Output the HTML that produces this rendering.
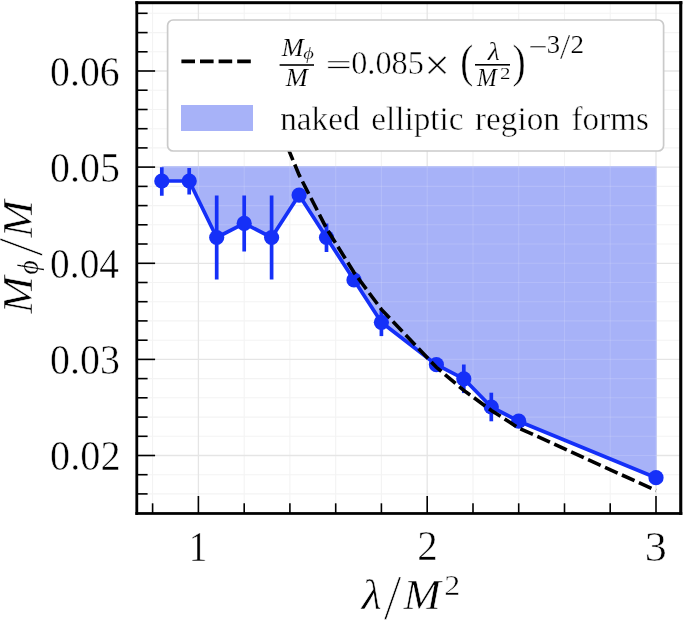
<!DOCTYPE html>
<html lang="en"><head><meta charset="utf-8"><title>M_phi/M vs lambda/M^2</title>
<style>html,body{margin:0;padding:0;background:#fff}svg{display:block}</style></head>
<body>
<svg width="685" height="620" viewBox="0 0 685 620" font-family="'Liberation Serif', 'DejaVu Serif', serif" fill="#000">
<rect width="685" height="620" fill="#fff"/>
<clipPath id="ax"><rect x="137.0" y="3.0" width="544.0" height="510.29999999999995"/></clipPath>
<g stroke="#f3f3f3" stroke-width="1.1"><line x1="152.6" x2="152.6" y1="3.0" y2="513.3"/><line x1="244.2" x2="244.2" y1="3.0" y2="513.3"/><line x1="289.9" x2="289.9" y1="3.0" y2="513.3"/><line x1="335.7" x2="335.7" y1="3.0" y2="513.3"/><line x1="381.4" x2="381.4" y1="3.0" y2="513.3"/><line x1="473.0" x2="473.0" y1="3.0" y2="513.3"/><line x1="518.7" x2="518.7" y1="3.0" y2="513.3"/><line x1="564.5" x2="564.5" y1="3.0" y2="513.3"/><line x1="610.2" x2="610.2" y1="3.0" y2="513.3"/><line x1="137.0" x2="681.0" y1="493.9" y2="493.9"/><line x1="137.0" x2="681.0" y1="474.7" y2="474.7"/><line x1="137.0" x2="681.0" y1="436.3" y2="436.3"/><line x1="137.0" x2="681.0" y1="417.1" y2="417.1"/><line x1="137.0" x2="681.0" y1="397.8" y2="397.8"/><line x1="137.0" x2="681.0" y1="378.6" y2="378.6"/><line x1="137.0" x2="681.0" y1="340.2" y2="340.2"/><line x1="137.0" x2="681.0" y1="320.9" y2="320.9"/><line x1="137.0" x2="681.0" y1="301.7" y2="301.7"/><line x1="137.0" x2="681.0" y1="282.5" y2="282.5"/><line x1="137.0" x2="681.0" y1="244.0" y2="244.0"/><line x1="137.0" x2="681.0" y1="224.8" y2="224.8"/><line x1="137.0" x2="681.0" y1="205.6" y2="205.6"/><line x1="137.0" x2="681.0" y1="186.4" y2="186.4"/><line x1="137.0" x2="681.0" y1="147.9" y2="147.9"/><line x1="137.0" x2="681.0" y1="128.7" y2="128.7"/><line x1="137.0" x2="681.0" y1="109.5" y2="109.5"/><line x1="137.0" x2="681.0" y1="90.2" y2="90.2"/><line x1="137.0" x2="681.0" y1="51.8" y2="51.8"/><line x1="137.0" x2="681.0" y1="32.6" y2="32.6"/><line x1="137.0" x2="681.0" y1="13.3" y2="13.3"/></g><g stroke="#e5e5e5" stroke-width="1.3"><line x1="198.4" x2="198.4" y1="3.0" y2="513.3"/><line x1="427.2" x2="427.2" y1="3.0" y2="513.3"/><line x1="656.0" x2="656.0" y1="3.0" y2="513.3"/><line x1="137.0" x2="681.0" y1="455.5" y2="455.5"/><line x1="137.0" x2="681.0" y1="359.4" y2="359.4"/><line x1="137.0" x2="681.0" y1="263.3" y2="263.3"/><line x1="137.0" x2="681.0" y1="167.1" y2="167.1"/><line x1="137.0" x2="681.0" y1="71.0" y2="71.0"/></g>
<clipPath id="fc"><polygon points="161.8,166.2 656.6,166.2 656.6,477.7 656.0,477.7 518.7,421.2 491.3,407.0 463.8,378.8 436.4,364.7 381.4,322.3 354.0,279.9 326.5,237.5 299.1,195.1 271.6,237.5 244.2,223.4 216.7,237.5 189.2,181.0 161.8,181.0"/></clipPath>
<polygon points="161.8,166.2 656.6,166.2 656.6,477.7 656.0,477.7 518.7,421.2 491.3,407.0 463.8,378.8 436.4,364.7 381.4,322.3 354.0,279.9 326.5,237.5 299.1,195.1 271.6,237.5 244.2,223.4 216.7,237.5 189.2,181.0 161.8,181.0" fill="#a7b2f8"/>
<g clip-path="url(#fc)" stroke="#fff" stroke-opacity="0.14" stroke-width="1.1"><line x1="152.6" x2="152.6" y1="3.0" y2="513.3"/><line x1="244.2" x2="244.2" y1="3.0" y2="513.3"/><line x1="289.9" x2="289.9" y1="3.0" y2="513.3"/><line x1="335.7" x2="335.7" y1="3.0" y2="513.3"/><line x1="381.4" x2="381.4" y1="3.0" y2="513.3"/><line x1="473.0" x2="473.0" y1="3.0" y2="513.3"/><line x1="518.7" x2="518.7" y1="3.0" y2="513.3"/><line x1="564.5" x2="564.5" y1="3.0" y2="513.3"/><line x1="610.2" x2="610.2" y1="3.0" y2="513.3"/><line x1="137.0" x2="681.0" y1="493.9" y2="493.9"/><line x1="137.0" x2="681.0" y1="474.7" y2="474.7"/><line x1="137.0" x2="681.0" y1="436.3" y2="436.3"/><line x1="137.0" x2="681.0" y1="417.1" y2="417.1"/><line x1="137.0" x2="681.0" y1="397.8" y2="397.8"/><line x1="137.0" x2="681.0" y1="378.6" y2="378.6"/><line x1="137.0" x2="681.0" y1="340.2" y2="340.2"/><line x1="137.0" x2="681.0" y1="320.9" y2="320.9"/><line x1="137.0" x2="681.0" y1="301.7" y2="301.7"/><line x1="137.0" x2="681.0" y1="282.5" y2="282.5"/><line x1="137.0" x2="681.0" y1="244.0" y2="244.0"/><line x1="137.0" x2="681.0" y1="224.8" y2="224.8"/><line x1="137.0" x2="681.0" y1="205.6" y2="205.6"/><line x1="137.0" x2="681.0" y1="186.4" y2="186.4"/><line x1="137.0" x2="681.0" y1="147.9" y2="147.9"/><line x1="137.0" x2="681.0" y1="128.7" y2="128.7"/><line x1="137.0" x2="681.0" y1="109.5" y2="109.5"/><line x1="137.0" x2="681.0" y1="90.2" y2="90.2"/><line x1="137.0" x2="681.0" y1="51.8" y2="51.8"/><line x1="137.0" x2="681.0" y1="32.6" y2="32.6"/><line x1="137.0" x2="681.0" y1="13.3" y2="13.3"/><line x1="198.4" x2="198.4" y1="3.0" y2="513.3"/><line x1="427.2" x2="427.2" y1="3.0" y2="513.3"/><line x1="656.0" x2="656.0" y1="3.0" y2="513.3"/><line x1="137.0" x2="681.0" y1="455.5" y2="455.5"/><line x1="137.0" x2="681.0" y1="359.4" y2="359.4"/><line x1="137.0" x2="681.0" y1="263.3" y2="263.3"/><line x1="137.0" x2="681.0" y1="167.1" y2="167.1"/><line x1="137.0" x2="681.0" y1="71.0" y2="71.0"/></g>
<g clip-path="url(#ax)">
<polyline points="161.8,181.0 189.2,181.0 216.7,237.5 244.2,223.4 271.6,237.5 299.1,195.1 326.5,237.5 354.0,279.9 381.4,322.3 436.4,364.7 463.8,378.8 491.3,407.0 518.7,421.2 656.0,477.7" fill="none" stroke="#1530f8" stroke-width="3.7" stroke-linejoin="round"/>
<g stroke="#1530f8" stroke-width="3.7"><line x1="161.8" x2="161.8" y1="167.3" y2="195.7"/><line x1="189.2" x2="189.2" y1="168.1" y2="194.6"/><line x1="216.7" x2="216.7" y1="195.5" y2="279.5"/><line x1="244.2" x2="244.2" y1="195.4" y2="251.4"/><line x1="271.6" x2="271.6" y1="195.5" y2="279.5"/><line x1="326.5" x2="326.5" y1="223.5" y2="252.1"/><line x1="381.4" x2="381.4" y1="309.8" y2="336.1"/><line x1="463.8" x2="463.8" y1="364.5" y2="393.1"/><line x1="491.3" x2="491.3" y1="392.7" y2="421.3"/></g>
<g fill="#1530f8"><circle cx="161.8" cy="181.0" r="7.6"/><circle cx="189.2" cy="181.0" r="7.6"/><circle cx="216.7" cy="237.5" r="7.6"/><circle cx="244.2" cy="223.4" r="7.6"/><circle cx="271.6" cy="237.5" r="7.6"/><circle cx="299.1" cy="195.1" r="7.6"/><circle cx="326.5" cy="237.5" r="7.6"/><circle cx="354.0" cy="279.9" r="7.6"/><circle cx="381.4" cy="322.3" r="7.6"/><circle cx="436.4" cy="364.7" r="7.6"/><circle cx="463.8" cy="378.8" r="7.6"/><circle cx="491.3" cy="407.0" r="7.6"/><circle cx="518.7" cy="421.2" r="7.6"/><circle cx="656.0" cy="477.7" r="7.6"/></g>
<polyline points="656.0,490.5 518.7,428.0 491.3,410.4 463.8,390.4 436.4,367.3 381.4,309.4 354.0,272.5 326.5,228.4 299.1,174.9 271.6,109.0" fill="none" stroke="#000" stroke-width="3.6" stroke-dasharray="13.8,4.8" stroke-dashoffset="13.6"/>
</g>
<g stroke="#000" stroke-width="1.6"><line x1="152.6" x2="152.6" y1="513.3" y2="503.29999999999995"/><line x1="198.4" x2="198.4" y1="513.3" y2="495.99999999999994"/><line x1="244.2" x2="244.2" y1="513.3" y2="503.29999999999995"/><line x1="289.9" x2="289.9" y1="513.3" y2="503.29999999999995"/><line x1="335.7" x2="335.7" y1="513.3" y2="503.29999999999995"/><line x1="381.4" x2="381.4" y1="513.3" y2="503.29999999999995"/><line x1="427.2" x2="427.2" y1="513.3" y2="495.99999999999994"/><line x1="473.0" x2="473.0" y1="513.3" y2="503.29999999999995"/><line x1="518.7" x2="518.7" y1="513.3" y2="503.29999999999995"/><line x1="564.5" x2="564.5" y1="513.3" y2="503.29999999999995"/><line x1="610.2" x2="610.2" y1="513.3" y2="503.29999999999995"/><line x1="656.0" x2="656.0" y1="513.3" y2="495.99999999999994"/><line x1="137.0" x2="147.6" y1="493.9" y2="493.9"/><line x1="137.0" x2="147.6" y1="474.7" y2="474.7"/><line x1="137.0" x2="155.1" y1="455.5" y2="455.5"/><line x1="137.0" x2="147.6" y1="436.3" y2="436.3"/><line x1="137.0" x2="147.6" y1="417.1" y2="417.1"/><line x1="137.0" x2="147.6" y1="397.8" y2="397.8"/><line x1="137.0" x2="147.6" y1="378.6" y2="378.6"/><line x1="137.0" x2="155.1" y1="359.4" y2="359.4"/><line x1="137.0" x2="147.6" y1="340.2" y2="340.2"/><line x1="137.0" x2="147.6" y1="320.9" y2="320.9"/><line x1="137.0" x2="147.6" y1="301.7" y2="301.7"/><line x1="137.0" x2="147.6" y1="282.5" y2="282.5"/><line x1="137.0" x2="155.1" y1="263.3" y2="263.3"/><line x1="137.0" x2="147.6" y1="244.0" y2="244.0"/><line x1="137.0" x2="147.6" y1="224.8" y2="224.8"/><line x1="137.0" x2="147.6" y1="205.6" y2="205.6"/><line x1="137.0" x2="147.6" y1="186.4" y2="186.4"/><line x1="137.0" x2="155.1" y1="167.1" y2="167.1"/><line x1="137.0" x2="147.6" y1="147.9" y2="147.9"/><line x1="137.0" x2="147.6" y1="128.7" y2="128.7"/><line x1="137.0" x2="147.6" y1="109.5" y2="109.5"/><line x1="137.0" x2="147.6" y1="90.2" y2="90.2"/><line x1="137.0" x2="155.1" y1="71.0" y2="71.0"/><line x1="137.0" x2="147.6" y1="51.8" y2="51.8"/><line x1="137.0" x2="147.6" y1="32.6" y2="32.6"/><line x1="137.0" x2="147.6" y1="13.3" y2="13.3"/></g>
<g fill="#000"><rect x="135.4" y="1.2" width="2.8" height="513.65"/><rect x="135.4" y="512.1" width="546.9" height="2.75"/><rect x="679.2" y="1.2" width="3.1" height="513.65"/><rect x="135.4" y="1.2" width="546.9" height="3.0"/></g>
<rect x="167.6" y="20" width="496" height="131" rx="5.5" fill="#fff" stroke="#cacaca" stroke-width="1.7"/>
<line x1="181.4" x2="253" y1="61.4" y2="61.4" stroke="#000" stroke-width="3.6" stroke-dasharray="13.6,5"/>
<rect x="181" y="105" width="72" height="26" fill="#a7b2f8"/>
<rect x="279.6" y="64.2" width="34.4" height="1.6"/><rect x="475" y="64.0" width="35" height="1.6"/>
<g stroke="#fff" stroke-width="0.5">
<text transform="translate(50.11,85.70) scale(0.9642,1.0000)" font-size="41.18">0.06</text>
<text transform="translate(50.10,181.82) scale(0.9700,1.0000)" font-size="41.18">0.05</text>
<text transform="translate(50.12,277.94) scale(0.9557,1.0000)" font-size="41.18">0.04</text>
<text transform="translate(50.10,374.06) scale(0.9700,1.0000)" font-size="41.18">0.03</text>
<text transform="translate(50.09,470.18) scale(0.9788,1.0000)" font-size="41.18">0.02</text>
<text transform="translate(188.65,560.70) scale(0.8760,1.0000)" font-size="42.42">1</text>
<text transform="translate(417.16,560.40) scale(0.9771,1.0000)" font-size="41.96">2</text>
<text transform="translate(644.80,560.58) scale(1.0485,1.0000)" font-size="42.08">3</text>
<text transform="translate(361.74,609.40) scale(1.0978,1.0000)" font-size="41.70" font-style="italic">λ</text>
<text transform="translate(385.92,618.97) scale(1.0183,1.4925)" font-size="42.00" font-style="italic">/</text>
<text transform="translate(403.56,609.40) scale(1.0872,1.0000)" font-size="41.22" font-style="italic">M</text>
<text transform="translate(444.16,595.00) scale(1.0600,1.0000)" font-size="30.19">2</text>
<text transform="translate(32.0,314.0) rotate(-90) translate(0.56,0.00) scale(1.0484,1.0000)" font-size="42.75" font-style="italic">M</text>
<text transform="translate(32.0,314.0) rotate(-90) translate(39.38,5.68) scale(0.9248,1.0000)" font-size="29.75" font-style="italic" stroke-width="0.2">ϕ</text>
<text transform="translate(32.0,314.0) rotate(-90) translate(60.04,9.87) scale(1.0782,1.4925)" font-size="42.00" font-style="italic">/</text>
<text transform="translate(32.0,314.0) rotate(-90) translate(76.56,0.00) scale(1.0484,1.0000)" font-size="42.75" font-style="italic">M</text>
<text transform="translate(281.83,56.30) scale(1.0086,1.0000)" font-size="26.11" font-style="italic" stroke-width="0.2">M</text>
<text transform="translate(303.34,59.29) scale(1.2420,1.0000)" font-size="16.53" font-style="italic" stroke-width="0.2">ϕ</text>
<text transform="translate(285.73,86.30) scale(1.0188,1.0000)" font-size="25.95" font-style="italic" stroke-width="0.2">M</text>
<text transform="translate(325.45,75.41) scale(1.3082,0.8444)" font-size="36.00">=</text>
<text transform="translate(351.19,74.08) scale(0.9297,1.0000)" font-size="34.71">0.085</text>
<text transform="translate(424.37,80.18) scale(1.0222,1.0000)" font-size="44.44">×</text>
<text transform="translate(460.24,76.57) scale(0.8390,1.0000)" font-size="46.74">(</text>
<text transform="translate(487.69,60.30) scale(1.1439,1.0000)" font-size="24.26" font-style="italic" stroke-width="0.2">λ</text>
<text transform="translate(476.90,86.20) scale(0.9316,1.0000)" font-size="25.50" font-style="italic" stroke-width="0.2">M</text>
<text transform="translate(500.06,79.20) scale(1.2312,1.0000)" font-size="17.06" stroke-width="0.2">2</text>
<text transform="translate(512.51,76.57) scale(0.8475,1.0000)" font-size="46.74">)</text>
<text transform="translate(528.81,55.51) scale(1.3505,1.1200)" font-size="25.00" stroke-width="0.2">−</text>
<text transform="translate(546.73,52.95) scale(1.0675,1.0000)" font-size="24.98" stroke-width="0.2">3</text>
<text transform="translate(561.13,58.64) scale(1.0063,1.4328)" font-size="25.00" font-style="italic" stroke-width="0.2">/</text>
<text transform="translate(570.38,53.00) scale(1.0776,1.0000)" font-size="25.06" stroke-width="0.2">2</text>
<text transform="translate(280.26,130.30) scale(0.9920,1.0000)" font-size="33.50" word-spacing="3.32">naked elliptic region forms</text>
</g>
</svg>
</body></html>
